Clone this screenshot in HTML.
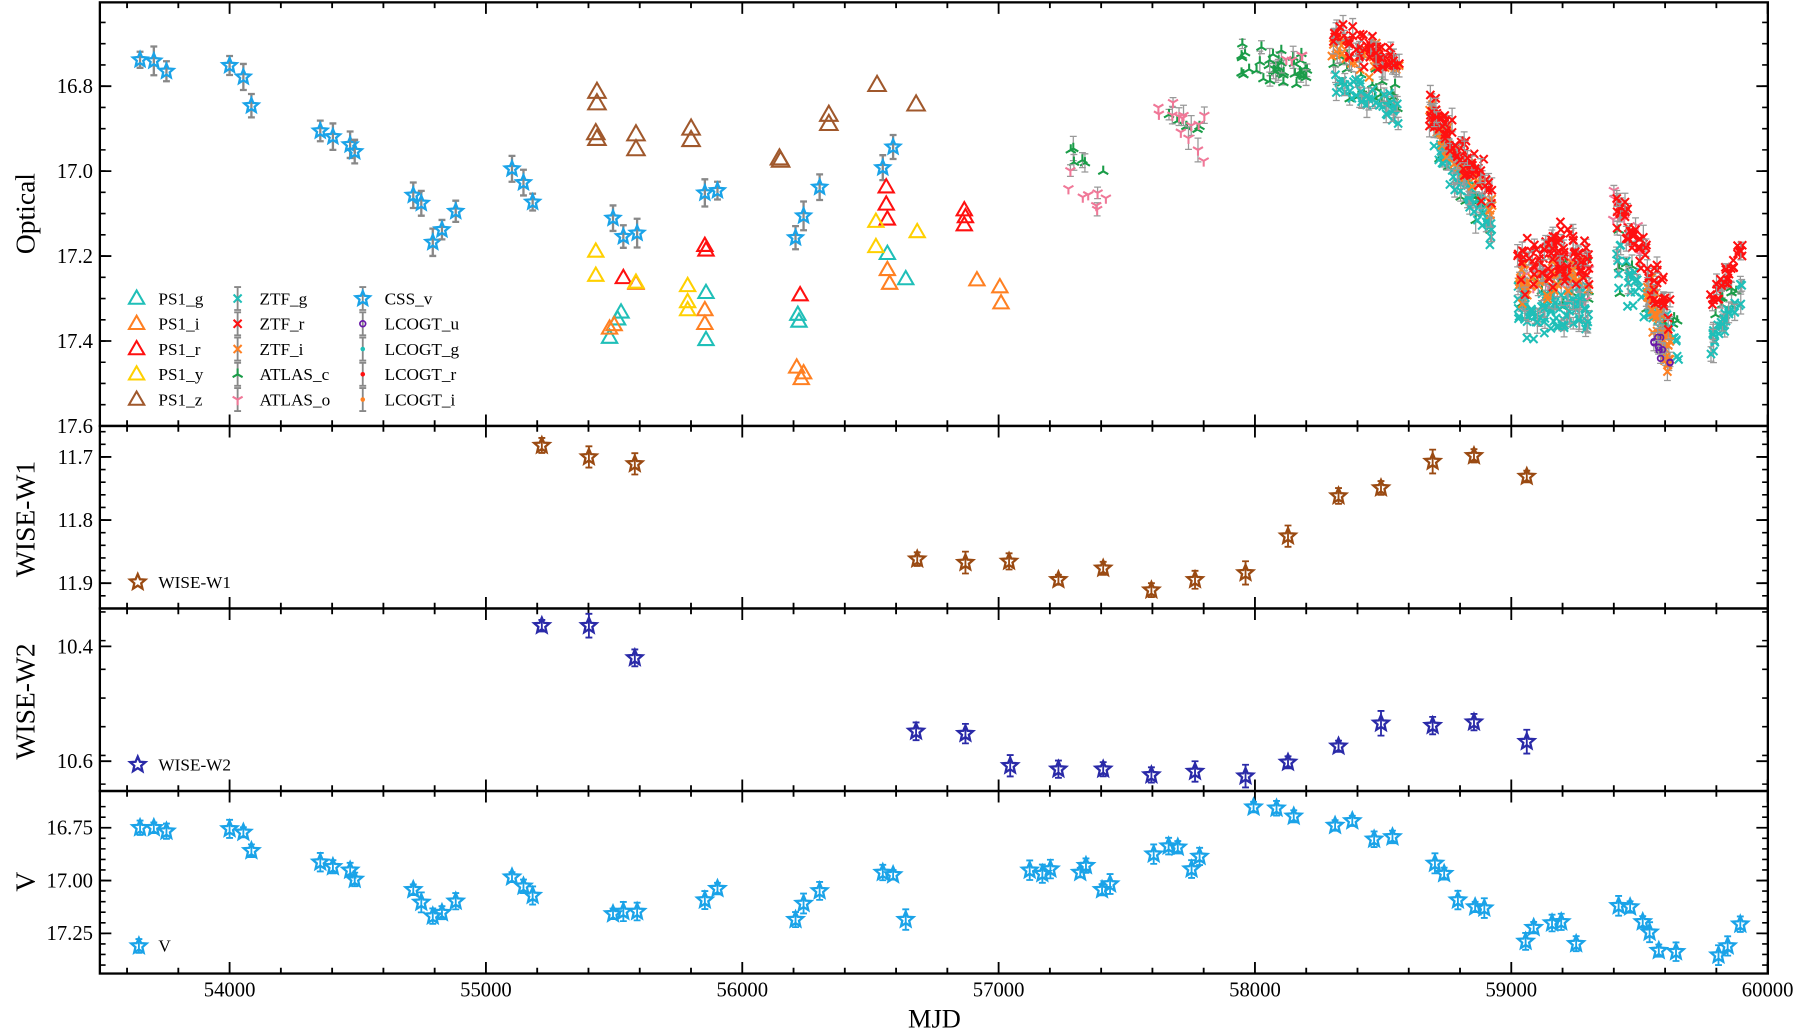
<!DOCTYPE html>
<html><head><meta charset="utf-8"><style>
html,body{margin:0;padding:0;background:#fff;}
svg{display:block;font-family:"Liberation Serif",serif;}
</style></head><body>
<svg id="s" width="1800" height="1031" viewBox="0 0 1568 898" xmlns="http://www.w3.org/2000/svg"></svg>
<script>
var o=[];var L=87,R=1540;
var seed=7;function rnd(){seed=(seed*16807)%2147483647;return seed/2147483647;}
function gau(){return (rnd()+rnd()+rnd()-1.5)*1.2;}
function X(m){return 200+(m-54000)*0.2233;}
function star(x,y,r,c,w){var p=[];for(var i=0;i<10;i++){var a=-Math.PI/2+i*Math.PI/5,rr=i%2?r*0.45:r;p.push((x+rr*Math.cos(a)).toFixed(1)+','+(y+rr*Math.sin(a)).toFixed(1));}
o.push('<polygon points="'+p.join(' ')+'" fill="none" stroke="'+c+'" stroke-width="'+(w||2)+'"/>');}
function tri(x,y,r,c){o.push('<polygon points="'+x+','+(y-r)+' '+(x-r*0.95)+','+(y+r*0.65)+' '+(x+r*0.95)+','+(y+r*0.65)+'" fill="none" stroke="'+c+'" stroke-width="1.8"/>');}
function cross(x,y,r,c){o.push('<path d="M'+(x-r)+' '+(y-r)+'L'+(x+r)+' '+(y+r)+'M'+(x-r)+' '+(y+r)+'L'+(x+r)+' '+(y-r)+'" stroke="'+c+'" stroke-width="1.8"/>');}
function tri3(x,y,r,c,up){var s=up?-1:1;o.push('<path d="M'+x+' '+y+'L'+x+' '+(y-s*r)+'M'+x+' '+y+'L'+(x-r*0.87)+' '+(y+s*r*0.5)+'M'+x+' '+y+'L'+(x+r*0.87)+' '+(y+s*r*0.5)+'" stroke="'+c+'" stroke-width="1.8"/>');}
function eb(x,y,e,c,w){o.push('<path d="M'+x+' '+(y-e)+'L'+x+' '+(y+e)+'M'+(x-3)+' '+(y-e)+'L'+(x+3)+' '+(y-e)+'M'+(x-3)+' '+(y+e)+'L'+(x+3)+' '+(y+e)+'" stroke="'+c+'" stroke-width="'+(w||1.8)+'"/>');}
var panels=[[2,371,16.605,17.6,0.2,0.05,function(m){return 75+(m-16.8)*370},1,[16.8,17.0,17.2,17.4,17.6]],
[371,530,0,0,0,0,function(m){return 398+(m-11.7)*550},1,[11.7,11.8,11.9]],
[530,689,0,0,0,0,function(m){return 563+(m-10.4)*500},1,[10.4,10.6]],
[689,848,0,0,0,0,function(m){return 721+(m-16.75)*184},2,[16.75,17.00,17.25]]];
var minors=[[16.65,17.6,0.05],[11.62,11.96,0.02],[10.34,10.66,0.05],[16.65,17.4,0.05]];
panels.forEach(function(p,i){var t=p[0],b=p[1],f=p[6];
for(var m=53600;m<=60000;m+=200){var x=X(m),maj=(m%1000==0),l=maj?10:5;
o.push('<path d="M'+x+' '+t+'v'+l+'M'+x+' '+b+'v'+(-l)+'" stroke="#000" stroke-width="1.6"/>');}
var mn=minors[i];for(var v=mn[0];v<=mn[1]+1e-6;v+=mn[2]){var y=f(v);if(y>t+1&&y<b-1)o.push('<path d="M'+L+' '+y+'h5M'+R+' '+y+'h-5" stroke="#000" stroke-width="1.4"/>');}
p[8].forEach(function(v){var y=f(v);o.push('<path d="M'+L+' '+y+'h10M'+R+' '+y+'h-10" stroke="#000" stroke-width="1.6"/>');
o.push('<text x="'+(L-6)+'" y="'+(y+6)+'" font-size="18" text-anchor="end">'+(p[7]==2?v.toFixed(2):v.toFixed(1))+'</text>');});
o.push('<rect x="'+L+'" y="'+t+'" width="'+(R-L)+'" height="'+(b-t)+'" fill="none" stroke="#000" stroke-width="2"/>');});
[54000,55000,56000,57000,58000,59000,60000].forEach(function(m){o.push('<text x="'+X(m)+'" y="868" font-size="18" text-anchor="middle">'+m+'</text>');});
o.push('<text x="814" y="895" font-size="23" text-anchor="middle">MJD</text>');
function ylab(t,y){o.push('<text transform="translate(30,'+y+') rotate(-90)" font-size="24" text-anchor="middle">'+t+'</text>');}
ylab('Optical',186);ylab('WISE-W1',452);ylab('WISE-W2',611);ylab('V',768);
var BL='#1aa3e8',GR='#888',CY='#1fbfb8',OR='#ff8022',RD='#ff1010',YE='#ffd000',BR='#a0582c',GN='#1a9c48',PK='#f07898',W1C='#9a4a12',W2C='#2a2aa8';
[[122,52],[134,53],[145,62],[200,57],[212,67],[219,92],[279,114],[290,119],[305,126],[309,132],[360,170],[367,177],[377,211],[385,200],[397,184],[446,147],[456,159],[464,176],[534,190],[543,206],[555,203],[614,168],[625,166],[693,207],[700,188],[714,163],[769,146],[778,128]].forEach(function(p){eb(p[0],p[1],7+rnd()*6,GR,2);star(p[0],p[1],6.5,BL);});
[[531,294],[538,278],[541,272],[615,255],[615,296],[695,274],[696,280],[773,221],[789,243]].forEach(function(p){tri(p[0],p[1],7,CY);});
[[531,286],[535,283],[554,247],[614,270],[614,282],[694,320],[698,330],[700,325],[773,235],[775,247],[851,244],[871,250],[872,264]].forEach(function(p){tri(p[0],p[1],7,OR);});
[[543,242],[614,214],[615,218],[697,257],[772,163],[772,178],[773,191],[840,183],[840,196],[841,189]].forEach(function(p){tri(p[0],p[1],7,RD);});
[[519,219],[519,240],[554,246],[599,249],[599,263],[599,270],[763,193],[763,215],[799,202]].forEach(function(p){tri(p[0],p[1],7,YE);});
[[520,80],[520,90],[519,116],[520,121],[554,117],[554,130],[602,112],[602,122],[679,138],[680,140],[722,100],[722,108],[764,74],[798,91]].forEach(function(p){tri(p[0],p[1],8,BR);});
function seg(list,fn,ebar){list.forEach(function(s){for(var i=0;i<s[5];i++){var t=rnd(),x=s[0]+(s[2]-s[0])*t,y=s[1]+(s[3]-s[1])*t+gau()*s[4];if(ebar&&rnd()<0.4)eb(x,y,4+rnd()*7,'#999',1.1);fn(x,y);}});}
var ztfr=[[1160,30,1220,55,12,60],[1245,95,1300,170,14,70],[1322,225,1385,225,20,90],[1408,180,1455,270,18,60],[1490,265,1518,215,8,30]];
var ztfg=[[1160,70,1220,95,12,40],[1245,115,1300,200,14,60],[1322,270,1385,265,18,90],[1408,225,1465,310,18,50],[1490,300,1518,255,10,30]];
var ztfi=[[1160,40,1220,60,10,30],[1245,100,1300,180,12,40],[1322,245,1385,240,15,40],[1435,260,1455,310,18,40]];
var atc=[[920,128,965,150,8,6],[1015,100,1045,115,8,6],[1080,55,1140,60,12,40],[1160,60,1220,90,12,25],[1245,110,1300,200,14,25],[1322,250,1385,250,18,20],[1410,230,1465,280,20,15],[1490,280,1518,250,10,8]];
var ato=[[925,150,970,185,10,8],[1005,100,1050,120,15,14],[1120,50,1135,50,5,4],[1322,240,1385,240,20,20],[1405,170,1430,210,15,10]];
seg(atc,function(x,y){tri3(x,y,5,GN,false);},true);
seg(ato,function(x,y){tri3(x,y,5,PK,true);},true);
seg(ztfg,function(x,y){cross(x,y,3.5,CY);},true);
seg(ztfi,function(x,y){cross(x,y,3.5,OR);},true);
seg(ztfr,function(x,y){cross(x,y,3.5,RD);},true);
seg([[1440,290,1455,320,10,10]],function(x,y){o.push('<circle cx="'+x+'" cy="'+y+'" r="2.5" fill="none" stroke="#6a1aa8" stroke-width="1.5"/>');},true);
var lg=[[119,'PS1_g',function(x,y){tri(x,y,7,CY)}],[119,'PS1_i',function(x,y){tri(x,y,7,OR)}],[119,'PS1_r',function(x,y){tri(x,y,7,RD)}],[119,'PS1_y',function(x,y){tri(x,y,7,YE)}],[119,'PS1_z',function(x,y){tri(x,y,7,BR)}],
[207,'ZTF_g',function(x,y){eb(x,y,10,GR,1.6);cross(x,y,3.5,CY)}],[207,'ZTF_r',function(x,y){eb(x,y,10,GR,1.6);cross(x,y,3.5,RD)}],[207,'ZTF_i',function(x,y){eb(x,y,10,GR,1.6);cross(x,y,3.5,OR)}],[207,'ATLAS_c',function(x,y){eb(x,y,10,GR,1.6);tri3(x,y,5,GN,false)}],[207,'ATLAS_o',function(x,y){eb(x,y,10,GR,1.6);tri3(x,y,5,PK,true)}],
[316,'CSS_v',function(x,y){eb(x,y,10,GR,1.6);star(x,y,6.5,BL)}],[316,'LCOGT_u',function(x,y){eb(x,y,10,GR,1.6);o.push('<circle cx="'+x+'" cy="'+y+'" r="2.5" fill="none" stroke="#6a1aa8" stroke-width="1.5"/>')}],[316,'LCOGT_g',function(x,y){eb(x,y,10,GR,1.6);o.push('<circle cx="'+x+'" cy="'+y+'" r="2" fill="'+CY+'"/>')}],[316,'LCOGT_r',function(x,y){eb(x,y,10,GR,1.6);o.push('<circle cx="'+x+'" cy="'+y+'" r="2" fill="'+RD+'"/>')}],[316,'LCOGT_i',function(x,y){eb(x,y,10,GR,1.6);o.push('<circle cx="'+x+'" cy="'+y+'" r="2" fill="'+OR+'"/>')}]];
lg.forEach(function(l,i){var y=260+(i%5)*22;l[2](l[0],y);o.push('<text x="'+(l[0]+19)+'" y="'+(y+5)+'" font-size="15">'+l[1]+'</text>');});
[[472,388],[513,398],[553,404],[799,487],[841,490],[879,489],[922,505],[961,495],[1003,514],[1041,505],[1085,499],[1122,467],[1166,432],[1203,425],[1248,402],[1284,397],[1330,415]].forEach(function(p){eb(p[0],p[1],4+rnd()*7,W1C,1.6);star(p[0],p[1],7,W1C);});
star(120,507,7,W1C);o.push('<text x="138" y="512" font-size="15">WISE-W1</text>');
[[472,545],[513,545],[553,573],[798,637],[841,639],[880,667],[922,670],[961,670],[1003,675],[1041,672],[1085,676],[1122,664],[1166,650],[1203,630],[1248,632],[1284,629],[1330,646]].forEach(function(p){eb(p[0],p[1],4+rnd()*7,W2C,1.6);star(p[0],p[1],7,W2C);});
star(120,666,7,W2C);o.push('<text x="138" y="671" font-size="15">WISE-W2</text>');
[[122,721],[134,721],[145,724],[200,722],[212,725],[219,741],[279,751],[290,755],[305,758],[309,766],[360,775],[367,786],[377,798],[385,795],[397,785],[446,764],[456,772],[464,780],[534,796],[543,794],[555,794],[614,784],[625,774],[693,801],[700,787],[714,776],[769,760],[778,762],[789,801],[897,758],[908,761],[915,757],[941,760],[946,754],[960,775],[967,770],[1005,744],[1018,737],[1026,738],[1038,757],[1045,746],[1092,703],[1112,704],[1127,711],[1163,719],[1178,715],[1197,731],[1213,729],[1250,752],[1258,761],[1270,784],[1285,790],[1293,791],[1329,820],[1336,808],[1352,804],[1360,803],[1373,822],[1410,789],[1420,790],[1431,803],[1437,812],[1445,828],[1460,829],[1497,832],[1505,824],[1516,805]].forEach(function(p){eb(p[0],p[1],4+rnd()*5,BL,1.6);star(p[0],p[1],7,BL);});
eb(121,824,6,BL,1.6);star(121,824,7,BL);o.push('<text x="138" y="829" font-size="15">V</text>');
document.getElementById('s').innerHTML=o.join('');
</script>
</body></html>
